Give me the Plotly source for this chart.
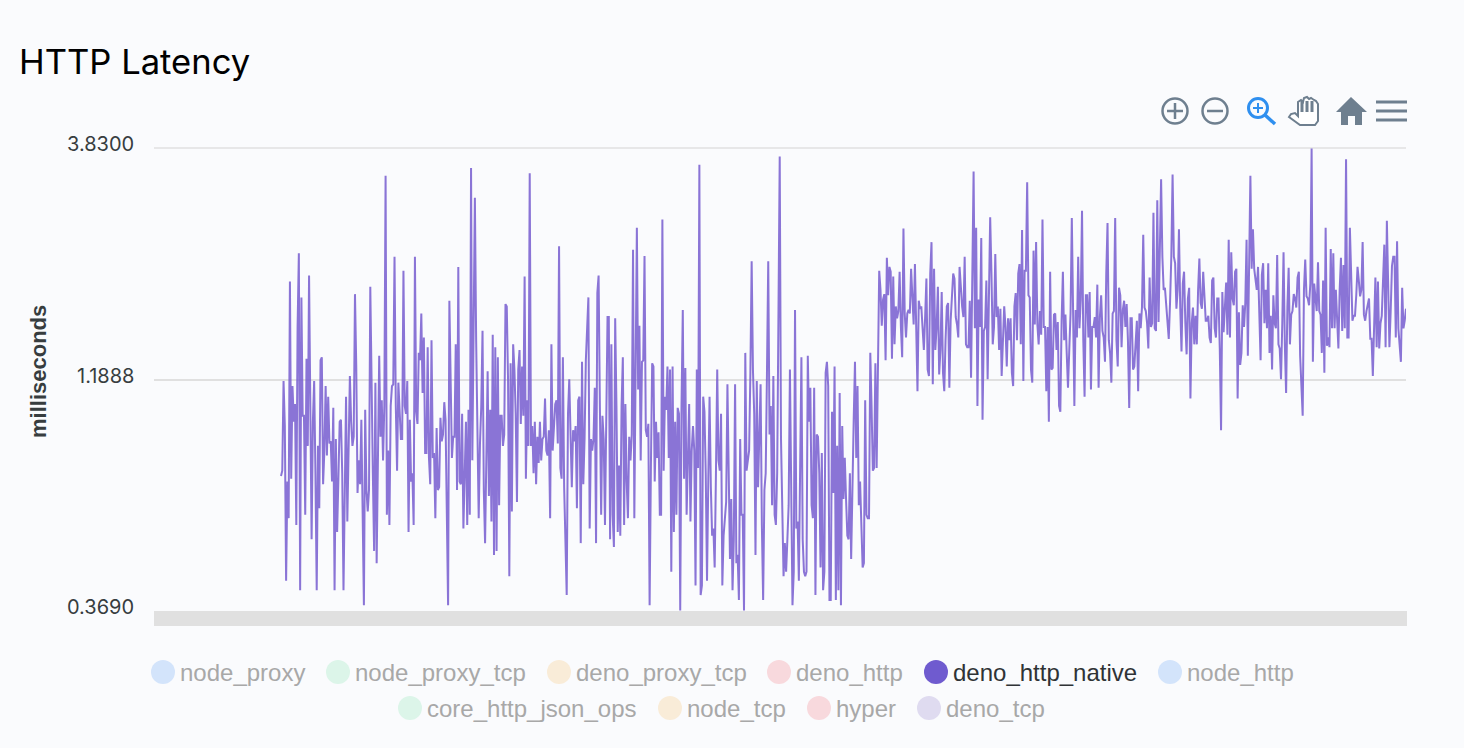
import plotly.graph_objects as go
import numpy as np

W, H = 1464, 748

# latency in ms left to right
latency_a = [.73,.75,1.18,.94,.43,.71,.59,1.95,.72,1.15,.96,1.05,.57,1.55,2.25,.41,1.80,.99,.99,.60,1.32,.85,2.01,1.07,.53,.96,1.18,.74,.41,.85,.62,1.31,1.33,.70,.83,1.15,.81,1.09,.86,.87,.71,1.03,.41,.88,.55,.72,.96,.97,.74,.41,.80,1.09,.58,.97,1.21,.96,.85,.89,1.83,1.27,.67,.79,.70,.97,.63,.38,1.02,.68,.61,.68,1.90,1.04,.74,.50,1.17,.47,.92,1.34,.89,1.07,.79,1.04,3.33,.60,.83,.57,1.04,1.15,1.16,2.21,1.04,.75,1.17,.97,.88,.88,2.06,1.04,1.00,1.18,.55,.97,.71,.74,.57,2.21,1.01,.95,1.36,1.31,1.66,1.11,1.47,.82,.82,1.40,.80,.70,1.45,.80,.82,.59,.93,.68,.69,.98,.87,.90,1.06,.97,.51,.38,1.77,1.04,.80,.89,.89,1.42,.68,2.10,.71,.70,1.00,.56,.79,.96,.57,1.02,.60,3.46,.79,1.59,2.98,1.45,.99,.59,.86,1.04,1.52,.68,.52,.79,1.24,.66,1.02,.58,1.49,.49,1.40,.50,1.33,.63,.99,.99,.85,.90,1.74,1.72,1.19,.44,1.29,.61,1.42,1.25,1.00,.64,1.25,1.38,.95,1.27,.99,2.00,.72,1.07,.85,3.37,.85,.94,.74,.96,.70,.89,.78,.96,.79,.88,.89,1.08,.83,.81,.92,.59,1.42,.83,.92,1.05,1.07,.86,2.33,.76,.72,1.33,.69,.53,.40,1.00]
latency_b = [1.19,.90,.69,.92,.87,.94,.62,1.07,1.09,.52,1.30,.70,.88,1.31,1.60,1.80,.56,.88,.83,.88,1.14,.52,1.84,2.01,1.04,.60,.99,.88,.57,1.04,1.63,1.63,.53,1.42,.60,.51,1.62,1.04,.55,.77,.54,1.04,1.33,.57,1.05,.71,.59,.89,.79,.90,2.29,.59,1.23,2.56,1.13,1.56,.79,1.30,1.31,2.22,.92,.89,.95,.38,.76,1.29,1.27,.71,.96,.80,.91,.60,.60,2.67,.75,1.09,1.02,1.27,.80,1.25,.45,1.27,.55,.96,.60,1.03,1.00,.37,1.04,1.69,.72,1.26,.60,.80,1.05,.58,.83,.94,.83,.42,1.25,.76,3.52,.40,.42,1.09,1.01,.74,.43,.72,1.09,.69,.54,.56,.46,.74,1.25,.79,.75,1.00,.42,.54,.60,.64,1.16,.72,.48,.65,.41,.53,1.16,.47,.49,.39,.88,.60,.60,.37,1.36,.75,.80,.83,1.23,2.16,1.25,1.00,.49,1.18,.69,.94,1.16,.57,.39,.68,.74,1.23,2.16,.90,1.04,.63,1.21,.60,.57,.74,1.45,3.67,.88,.60,.44,.52,.45,.53,.63,1.25,.63,.38,.45,1.69,.56,.58,.43,.88,1.33,.53,.45,.44,.45,1.34,.96,1.14,.63,.59,1.14,.40,.90,.89,.74,.46,.82,.41,.45,1.23,1.30,1.15,.39,.39,1.01,.67,1.27,.39,.85,.41,1.11,.38,.94,.65,.80,.65,.54,.53,.74,.48,.74,.97,1.30,.80,1.15,.63,.71,.54,.46,.47,1.07,.60,.59,.59,1.36,1.04,.75,.76,1.29,.76,1.27,2.06,1.87,1.56,1.78,1.83,1.31,2.20,1.82,2.10]
latency_c = [2.05,1.32,2.00,1.42,1.72,1.62,1.68,2.05,1.55,1.33,2.55,1.66,1.47,1.66,1.69,1.66,2.08,1.78,1.57,2.13,1.45,1.12,1.77,1.70,1.72,1.55,1.38,1.63,1.98,1.25,1.21,2.03,2.38,1.16,2.08,1.38,1.55,1.90,1.22,1.38,1.85,1.23,1.12,1.45,1.72,1.75,1.14,1.60,1.82,2.03,1.98,1.63,1.57,1.47,2.10,1.84,1.72,1.63,2.21,1.42,1.40,1.40,1.77,1.20,1.96,3.40,1.54,2.56,1.04,1.78,1.55,2.43,.97,1.52,1.55,1.96,1.19,1.72,2.70,2.03,1.42,1.55,2.24,1.63,1.72,1.38,1.70,1.21,1.45,1.72,1.55,1.27,1.62,1.45,1.62,1.23,1.15,1.72,1.84,1.45,2.03,2.13,1.42,2.53,1.18,2.06,2.06,3.22,1.82,1.80,1.25,1.17,2.28,1.57,2.38,1.57,1.42,1.68,1.49,2.67,1.55,1.55,1.12,1.55,.96,2.05,1.25,1.26,1.65,1.66,1.38,1.59,1.04,1.01,1.60,2.05,1.45,1.65,1.36,1.14,1.38,1.66,2.69,1.72,1.04,1.69,1.47,2.21,1.54,1.78,2.79,1.45,1.09,1.82,1.82,1.47,1.85,1.13,1.55,1.55,1.63,1.47,1.92,1.14,1.63,1.82,1.52,1.47,1.30,2.03,2.62,1.45,1.36,1.17,1.66,1.68,2.69,1.45,1.27,1.89,1.82,1.40,1.69,1.77,1.55,1.74,1.45,1.03,1.62,1.62,1.25,1.27,1.45,1.60,1.12,1.66]
latency_d = [1.54,1.71,2.47,1.71,1.68,1.58,1.39,1.99,1.55,1.58,2.76,1.54,1.52,2.94,1.59,2.21,3.27,2.21,1.87,1.89,1.75,1.64,1.46,1.75,2.21,3.35,2.21,2.14,1.70,1.87,2.54,1.71,1.37,1.93,2.05,1.58,1.35,1.79,1.89,1.08,1.58,1.71,1.42,1.64,1.42,1.87,2.19,1.75,1.70,2.05,1.75,1.60,1.60,1.64,1.47,1.43,1.96,1.99,1.54,1.47,1.79,1.79,1.39,.92,1.85,1.51,1.71,1.94,1.49,2.41,1.47,2.26,1.79,1.73,2.05,2.08,1.08,1.67,1.28,1.36,1.73,1.55,1.75,2.41,1.34,2.38,3.33,2.08,2.54,2.08,1.95,1.87,2.10,1.58,1.31,2.02,2.14,1.58,1.87,1.54,2.14,1.36,1.64,1.25,1.82,1.58,1.54,2.23,1.42,1.39,1.19,1.58,2.26,1.42,1.11,1.71,2.09,1.42,1.65,1.68,1.83,1.79,1.71,1.99,2.05,1.34,1.13,.99,1.87,2.18,1.81,1.79,1.73,1.93,3.82,1.30,1.93,1.75,1.68,2.15,1.68,1.65,1.36,1.96,1.23,2.56,1.41,1.47,1.40,2.30,1.54,2.25,1.54,1.87,1.52,1.39,1.87,2.20,1.52,2.12,1.54,3.62,1.47,1.47,2.56,1.99,1.60,1.64,1.64,1.82,2.10,1.96,1.81,1.87,2.38,1.65,1.60,1.68,1.73,1.79,1.46,1.46,1.21,1.64,1.99,1.40,1.95,1.39,1.58,1.64,1.99,2.35,1.40,2.65,1.93,1.40,1.68,2.11,2.21,2.21,1.47,2.39,1.54,1.39,1.30,1.89,1.54,1.60,1.70]
latency = latency_a + latency_b + latency_c + latency_d

tick_vals = [3.83, 1.1888, 0.369]
tick_text = ["3.8300", "1.1888", "0.3690"]

legend_row1 = ["node_proxy", "node_proxy_tcp", "deno_proxy_tcp", "deno_http", "deno_http_native", "node_http"]
legend_row2 = ["core_http_json_ops", "node_tcp", "hyper", "deno_tcp"]
legend_col1 = ["#d3e4fb", "#dcf5e9", "#f9ecd8", "#f8d9dd", "#6f5bcf", "#d3e4fb"]
legend_col2 = ["#dcf5e9", "#f9ecd8", "#f8d9dd", "#dfdbf0"]
legend_x1 = [163, 338, 559, 779, 936, 1170]
legend_x2 = [410, 670, 819, 929]

BG = "#fafbfd"
GRAY = "#6e7f8f"


def X(px):
    return px / W


def Y(py):
    return 1 - py / H


def path(points, close=False):
    s = "M " + " L ".join(f"{X(a):.5f} {Y(b):.5f}" for a, b in points)
    return s + " Z" if close else s


fig = go.Figure()

n = len(latency)
step = (1406 - 281) / (n - 1)
fig.add_trace(go.Scatter(
    x=list(range(n)), y=latency, mode="lines", name="deno_http_native",
    line=dict(color="#775dd0", width=2), opacity=0.85, showlegend=False))

shapes = []
annots = []

# grey band under the plot, top gridline gets dropped at the range edge so draw it here
shapes.append(dict(type="rect", xref="paper", yref="paper", x0=X(154), x1=X(1407),
                   y0=Y(611), y1=Y(626), fillcolor="#e0e0e0", line_width=0, layer="below"))
shapes.append(dict(type="line", xref="paper", yref="paper", x0=X(154), x1=X(1406),
                   y0=Y(148), y1=Y(148), line=dict(color="#e0e0e0", width=1.5), layer="below"))

# y tick labels sit a bit above their gridlines
for v, t in zip(tick_vals, tick_text):
    annots.append(dict(x=X(136), xref="paper", xanchor="right", y=np.log10(v), yref="y",
                       yanchor="middle", yshift=4, text=t, showarrow=False,
                       font=dict(family="Inter", size=20, color="#373d3f")))

annots.append(dict(x=X(17), y=Y(61), xref="paper", yref="paper", xanchor="left", yanchor="middle",
                   text="HTTP Latency", showarrow=False,
                   font=dict(family="Inter", size=34.6, color="#000000")))
annots.append(dict(x=X(38), y=Y(372), xref="paper", yref="paper", xanchor="center", yanchor="middle",
                   textangle=-90, text="<b>milliseconds</b>", showarrow=False,
                   font=dict(family="Liberation Sans", size=22, color="#373d3f")))

# legend
for names, cols, xs, row_y in [(legend_row1, legend_col1, legend_x1, 672),
                               (legend_row2, legend_col2, legend_x2, 708)]:
    for name, col, x in zip(names, cols, xs):
        shapes.append(dict(type="circle", xref="paper", yref="paper", x0=X(x - 12), x1=X(x + 12),
                           y0=Y(row_y - 12), y1=Y(row_y + 12), fillcolor=col, line_width=0))
        annots.append(dict(x=X(x + 15), y=Y(row_y), xref="paper", yref="paper", xanchor="left",
                           yanchor="middle", text=name, showarrow=False,
                           font=dict(family="Liberation Sans", size=24,
                                     color="#2f3336" if name == "deno_http_native" else "#a8a8a8")))

# toolbar
def line(x0, y0, x1, y1, col=GRAY, w=2.5):
    shapes.append(dict(type="line", xref="paper", yref="paper", x0=X(x0), y0=Y(y0), x1=X(x1), y1=Y(y1),
                       line=dict(color=col, width=w)))


def ring(cx, cy, r, col=GRAY, w=2.5):
    shapes.append(dict(type="circle", xref="paper", yref="paper", x0=X(cx - r), x1=X(cx + r),
                       y0=Y(cy - r), y1=Y(cy + r), line=dict(color=col, width=w)))


ring(1175, 111, 12.5)
line(1167, 111, 1183, 111)
line(1175, 103, 1175, 119)
ring(1215, 111, 12.5)
line(1207, 111, 1223, 111)
ring(1258, 108, 9.5, "#2f8fef", 3)
line(1265, 115, 1275, 124, "#2f8fef", 3.5)
line(1253, 108, 1263, 108, "#2f8fef", 2)
line(1258, 103, 1258, 113, "#2f8fef", 2)
hand = [(1289, 117), (1291, 114), (1295, 113), (1298, 116), (1298, 102), (1301, 100), (1303, 102),
        (1304, 98), (1307, 97), (1309, 99), (1311, 98), (1314, 100), (1316, 101), (1318, 104),
        (1318, 121), (1315, 125), (1300, 125)]
shapes.append(dict(type="path", xref="paper", yref="paper", path=path(hand, True), fillcolor="#ffffff",
                   line=dict(color=GRAY, width=2)))
for fx in [1302, 1307, 1312]:
    line(fx, 101, fx, 112, GRAY, 3)
home = [(1336, 112), (1351, 97), (1367, 112), (1362, 112), (1362, 125), (1355, 125), (1355, 116),
        (1348, 116), (1348, 125), (1341, 125), (1341, 112)]
shapes.append(dict(type="path", xref="paper", yref="paper", path=path(home, True), fillcolor=GRAY, line_width=0))
for hy in [102, 111, 120]:
    line(1376, hy, 1407, hy, GRAY, 3)

fig.update_layout(
    width=W, height=H, margin=dict(l=0, r=0, t=0, b=0),
    paper_bgcolor=BG, plot_bgcolor=BG, showlegend=False,
    shapes=shapes, annotations=annots,
    xaxis=dict(domain=[X(154), X(1406)], range=[-(281 - 154) / step, n - 1],
               showgrid=False, zeroline=False, showticklabels=False, ticks=""),
    yaxis=dict(domain=[Y(611), Y(148)], type="log",
               range=[np.log10(tick_vals[2]), np.log10(tick_vals[0])],
               tickvals=tick_vals, showticklabels=False, ticks="",
               gridcolor="#e0e0e0", gridwidth=1.5, zeroline=False, showline=False),
)

fig.write_html("out.html", config=dict(displayModeBar=False),
               post_script=f"document.body.style.margin='0';document.body.style.background='{BG}';document.body.style.overflow='hidden';")
